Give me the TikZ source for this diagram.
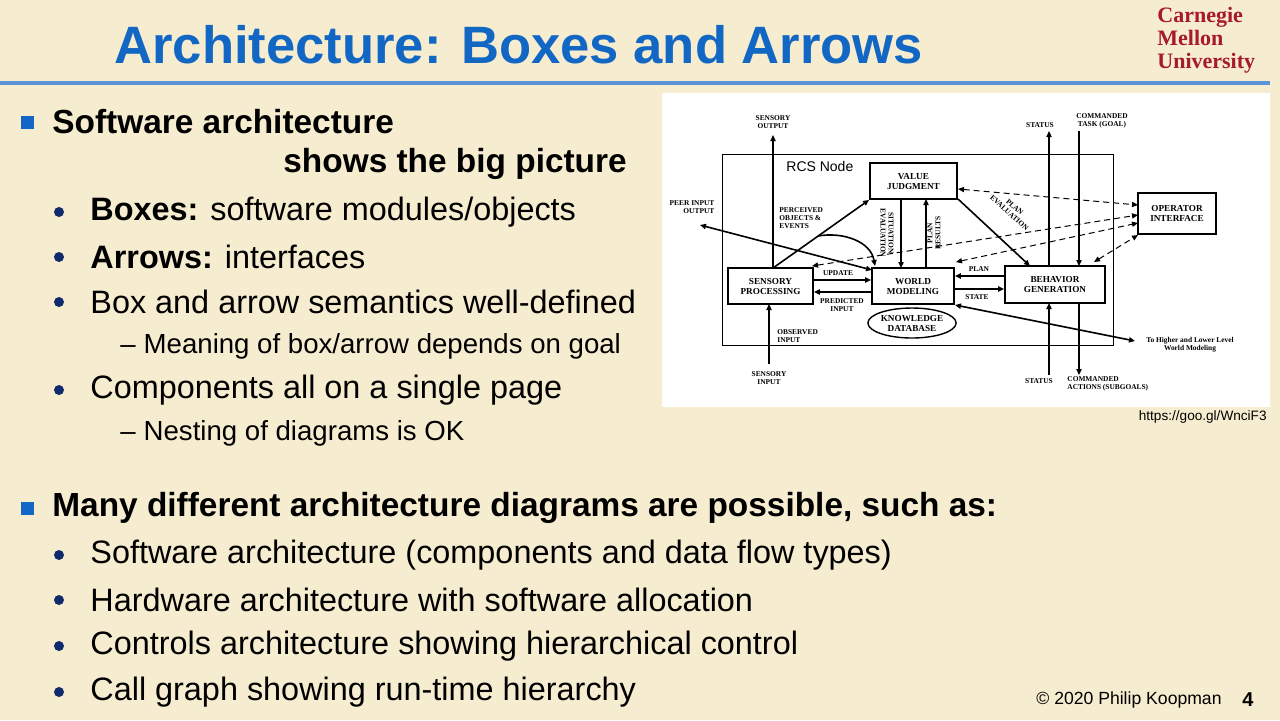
\documentclass[tikz,border=0pt]{standalone}
\usepackage{fontspec}
\setmainfont{Liberation Sans}
\newfontfamily\dserif{Liberation Serif}
\usetikzlibrary{shapes.geometric,arrows.meta}
\definecolor{bg}{HTML}{F6ECCF}
\definecolor{tblue}{HTML}{1266C4}
\definecolor{navy}{HTML}{102A6B}
\definecolor{cmu}{HTML}{A6192E}
\tikzset{
 x=0.5pt,y=-0.5pt,
 body/.style={anchor=west,inner sep=0,font=\fontsize{16.2}{18}\selectfont},
 bbody/.style={anchor=west,inner sep=0,font=\bfseries\fontsize{16.7}{18}\selectfont},
 sub/.style={anchor=west,inner sep=0,font=\fontsize{13.8}{15}\selectfont},
 sq/.style={fill=tblue,minimum size=6.5pt,inner sep=0},
 dot/.style={circle,fill=navy,minimum size=5pt,inner sep=0},
 dbox/.style={draw,line width=0.9pt,align=center,font=\dserif\bfseries\fontsize{4.6}{5}\selectfont,inner sep=0},
 dlab/.style={align=center,font=\dserif\bfseries\fontsize{3.7}{4}\selectfont,inner sep=0},
 arr/.style={line width=0.8pt,-{Triangle[length=3pt,width=2.6pt]}},
 darr/.style={line width=0.8pt,{Triangle[length=3pt,width=2.6pt]}-{Triangle[length=3pt,width=2.6pt]}},
 dsh/.style={line width=0.5pt,dash pattern=on 3pt off 2pt}
}
\begin{document}
\begin{tikzpicture}
\fill[bg] (0,0) rectangle (1280,720);
\useasboundingbox (0,0) rectangle (1280,720);
% title
\node[anchor=west,inner sep=0,text=tblue,font=\bfseries\fontsize{26.3}{28}\selectfont] (title) at (114,45) {Architecture: Boxes and Arrows};
\fill[tblue!70] (0,81) rectangle (1270,85);
\node[anchor=west,inner sep=0,text=cmu,align=left,font=\dserif\bfseries\fontsize{11}{11.5}\selectfont] (cmu) at (1157,40) {Carnegie\\Mellon\\University};
% left text
\node[sq] (s1) at (27,122) {};
\node[bbody] (t1) at (52,122) {Software architecture};
\node[bbody] (t1b) at (283,164) {shows the big picture};
\node[dot] (b1) at (59,212) {}; \node[body] (t2) at (90,212) {\textbf{Boxes:} software modules/objects};
\node[dot] (b2) at (59,257) {}; \node[body] (t3) at (90,257) {\textbf{Arrows:} interfaces};
\node[dot] (b3) at (59,302) {}; \node[body] (t4) at (90,302) {Box and arrow semantics well-defined};
\node[sub] (t5) at (120,346) {–\hspace{4pt}Meaning of box/arrow depends on goal};
\node[dot] (b4) at (59,390) {}; \node[body] (t6) at (90,390) {Components all on a single page};
\node[sub] (t7) at (120,433) {–\hspace{4pt}Nesting of diagrams is OK};
\node[sq] (s2) at (27,508) {};
\node[bbody] (t8) at (52,508) {Many different architecture diagrams are possible, such as:};
\node[dot] (b5) at (59,555) {}; \node[body] (t9) at (90,555) {Software architecture (components and data flow types)};
\node[dot] (b6) at (59,600) {}; \node[body] (t10) at (90,600) {Hardware architecture with software allocation};
\node[dot] (b7) at (59,646) {}; \node[body] (t11) at (90,646) {Controls architecture showing hierarchical control};
\node[dot] (b8) at (59,692) {}; \node[body] (t12) at (90,692) {Call graph showing run-time hierarchy};
\node[anchor=east,inner sep=0,font=\fontsize{8.8}{10}\selectfont] (foot) at (1222,700) {© 2020 Philip Koopman};
\node[anchor=center,inner sep=0,font=\bfseries\fontsize{10}{12}\selectfont] (pg) at (1248,700) {4};
\node[anchor=east,inner sep=0,font=\fontsize{6.8}{8}\selectfont] (url) at (1267,417) {https://goo.gl/WnciF3};
% diagram
\fill[white] (662,93) rectangle (1270,407);
\draw[line width=0.5pt] (722,154) rectangle (1113,345);
\node[anchor=west,inner sep=0,font=\fontsize{7}{8}\selectfont] (rcs) at (786,166) {RCS Node};
\node[dbox,minimum width=43.5pt,minimum height=18pt] (vj) at (913.5,181) {VALUE\\JUDGMENT};
\node[dbox,minimum width=42.5pt,minimum height=18pt] (sp) at (770.5,286) {SENSORY\\PROCESSING};
\node[dbox,minimum width=41pt,minimum height=18pt] (wm) at (913,286) {WORLD\\MODELING};
\node[dbox,minimum width=50pt,minimum height=18.5pt] (bg) at (1055,284.5) {BEHAVIOR\\GENERATION};
\node[dbox,minimum width=39pt,minimum height=20.5pt] (oi) at (1177,213.5) {OPERATOR\\INTERFACE};
\node[draw,ellipse,line width=0.7pt,minimum width=43pt,minimum height=15pt,inner sep=0,align=center,font=\dserif\bfseries\fontsize{4.6}{5}\selectfont] (kd) at (912,323) {KNOWLEDGE\\DATABASE};
% coordinates
\coordinate (so) at (773,135); \coordinate (si) at (769,364);
\coordinate (peer) at (700,225); \coordinate (hl) at (1135,341);
\coordinate (st1) at (1049,131); \coordinate (ct) at (1079,131);
\coordinate (st2) at (1049,375); \coordinate (ca) at (1079,375);
% arrows
\draw[arr] (773,268) -- (so);
\draw[arr] (si) -- (769,304);
\draw[darr] (peer) -- (872,270);
\draw[arr] (773,268) -- (vj.south west);
\draw[arr] (818,236) to[out=10,in=100] (875,266);
\draw[arr] (sp.east |- 0,280) -- (wm.west |- 0,280);
\draw[arr] (wm.west |- 0,292) -- (sp.east |- 0,292);
\draw[arr] (901,199) -- (901,268);
\draw[arr] (926,268) -- (926,199);
\draw[arr] (958,199) -- (1030,266);
\draw[arr] (bg.west |- 0,276) -- (wm.east |- 0,276);
\draw[arr] (wm.east |- 0,289) -- (bg.west |- 0,289);
\draw[darr] (955,305) -- (hl);
\draw[arr] (1049,266) -- (st1);
\draw[arr] (ct) -- (1079,266);
\draw[arr] (st2) -- (1049,303);
\draw[arr] (1079,303) -- (ca);
% dashed
\draw[dsh,{Triangle[length=3pt,width=2.6pt]}-{Triangle[length=3pt,width=2.6pt]}] (958,189) -- (1138,205);
\draw[dsh,{Triangle[length=3pt,width=2.6pt]}-{Triangle[length=3pt,width=2.6pt]}] (812,266) -- (1138,215);
\draw[dsh,{Triangle[length=3pt,width=2.6pt]}-{Triangle[length=3pt,width=2.6pt]}] (956,262) -- (1138,223);
\draw[dsh,{Triangle[length=3pt,width=2.6pt]}-{Triangle[length=3pt,width=2.6pt]}] (1094,262) -- (1138,235);
% labels
\node[dlab] (l1) at (773,122) {SENSORY\\OUTPUT};
\node[dlab] (l2) at (769,378) {SENSORY\\INPUT};
\node[dlab,align=left,anchor=west] (l3) at (777,336) {OBSERVED\\INPUT};
\node[dlab,align=right] (l4) at (692,207) {PEER INPUT\\OUTPUT};
\node[dlab,align=left,anchor=west] (l5) at (779,218) {PERCEIVED\\OBJECTS \&\\EVENTS};
\node[dlab] (l6) at (838,273) {UPDATE};
\node[dlab] (l7) at (842,305) {PREDICTED\\INPUT};
\node[dlab,rotate=-90] (l8) at (887,233) {SITUATION\\EVALUATION};
\node[dlab,rotate=90] (l9) at (934,233) {PLAN\\RESULTS};
\node[dlab,rotate=-42] (l10) at (1012,210) {PLAN\\EVALUATION};
\node[dlab] (l11) at (979,269) {PLAN};
\node[dlab] (l12) at (977,297) {STATE};
\node[dlab] (l13) at (1040,125) {STATUS};
\node[dlab] (l14) at (1102,121) {COMMANDED\\TASK (GOAL)};
\node[dlab] (l15) at (1039,381) {STATUS};
\node[dlab,align=left,anchor=west] (l16) at (1067,384) {COMMANDED\\ACTIONS (SUBGOALS)};
\node[dlab] (l17) at (1190,345) {To Higher and Lower Level\\World Modeling};
\end{tikzpicture}
\end{document}
